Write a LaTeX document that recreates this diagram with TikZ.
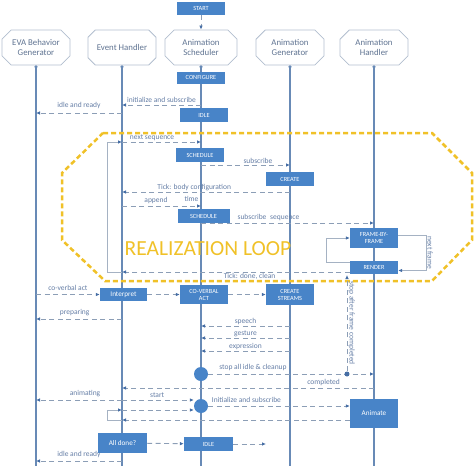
\documentclass[tikz,border=0pt]{standalone}
\usepackage{fontspec}
\setmainfont{Carlito}
\usetikzlibrary{arrows.meta,positioning,shapes.misc}

\definecolor{boxblue}{RGB}{72,132,200}
\definecolor{lifeblue}{RGB}{104,138,182}
\definecolor{msggray}{RGB}{140,158,182}
\definecolor{tipblue}{RGB}{70,110,165}
\definecolor{txtblue}{RGB}{100,125,165}
\definecolor{hdrline}{RGB}{178,190,206}
\definecolor{hdrtext}{RGB}{95,115,145}
\definecolor{loopgray}{RGB}{165,178,195}
\definecolor{loopyellow}{RGB}{240,193,40}

\begin{document}
\begin{tikzpicture}[x=1pt, y=-1pt, >={Latex[length=4pt,width=3.6pt,color=tipblue]},
    actor/.style={chamfered rectangle, chamfered rectangle xsep=6pt, draw=hdrline, line width=0.8pt, minimum width=68pt, minimum height=35pt, inner sep=1pt, align=center, text=hdrtext, font=\fontsize{8.8}{10}\selectfont},
    lifeline/.style={draw=lifeblue, line width=1.3pt, {Circle[length=3pt]}-},
    blk/.style={fill=boxblue, text=white, minimum width=48pt, minimum height=14pt, inner sep=1pt, align=center, font=\fontsize{6.3}{7}\selectfont},
    wordblk/.style={blk, font=\fontsize{7.2}{8}\selectfont},
    msg/.style={->, draw=msggray, line width=0.9pt, dash pattern=on 5pt off 3.5pt},
    back/.style={->, draw=loopgray, line width=0.9pt},
    lbl/.style={text=txtblue, inner sep=1pt, font=\fontsize{7.5}{8.5}\selectfont},
    joint/.style={circle, fill=boxblue, minimum size=14pt, inner sep=0pt},
    tinydot/.style={circle, fill=tipblue, minimum size=5pt, inner sep=0pt},
    loopborder/.style={draw=loopyellow, line width=2.5pt, dash pattern=on 5pt off 3pt}]
    \useasboundingbox (0,0) rectangle (474,466);

    % Lifeline heads
    \node[actor] (eva) at (36,47.5) {EVA Behavior\\Generator};
    \node[actor] (eh) at (122,47.5) {Event Handler};
    \node[actor, minimum width=72pt] (as) at (201,47.5) {Animation\\Scheduler};
    \node[actor] (ag) at (290,47.5) {Animation\\Generator};
    \node[actor] (ah) at (374,47.5) {Animation\\Handler};

    % Message rows
    \foreach \n/\y in {rinit/105, rready/113, rnext/142, rsub/165, rtick/192, rappend/206, rseq/223,
                       rdone/272, rprep/319, rspeech/326, rgest/338, rexpr/351, rcompl/388,
                       rstart/400, rback/410, ranim/420, rready2/461, rbottom/466}
        \coordinate (\n) at (0,\y);

    % Lifelines
    \foreach \a in {eva,eh,as,ag,ah}
        \draw[lifeline] (\a.south) -- (\a |- rbottom);

    % Realization loop
    \draw[loopborder] (103,133) -- (432,133) -- (472,173) -- (472,240) -- (432,281) -- (105,281) -- (62,240) -- (62,173) -- cycle;
    \node[text=loopyellow, font=\fontsize{21.5}{24}\selectfont] (looptitle) at (208,249) {REALIZATION LOOP};

    % Nodes
    \node[blk, minimum height=13pt] (start) at (201,8.5) {START};
    \node[blk, minimum height=12pt] (configure) at (201,77.5) {CONFIGURE};
    \node[blk] (idle) at (204,115) {IDLE};
    \node[blk] (schedule) at (200,155) {SCHEDULE};
    \node[blk] (create) at (290,179) {CREATE};
    \node[blk, minimum width=52pt] (reschedule) at (203.5,216) {SCHEDULE};
    \node[blk, minimum height=20pt] (frames) at (374,238) {FRAME-BY-\\FRAME};
    \node[blk, minimum height=13pt] (render) at (374,267.5) {RENDER};
    \node[wordblk, minimum width=47pt, minimum height=13pt] (interpret) at (123.5,294.5) {Interpret};
    \node[blk, minimum height=19pt] (coverbal) at (204,294.5) {CO-VERBAL\\ACT};
    \node[blk, minimum height=21pt] (streams) at (290,294.5) {CREATE\\STREAMS};
    \node[wordblk, minimum height=29pt] (animate) at (374,413.5) {Animate};
    \node[wordblk, minimum width=49pt, minimum height=20pt] (alldone) at (122.5,443) {All done?};
    \node[blk, minimum width=49pt] (idleagain) at (208.5,444) {IDLE};
    \node[joint] (stopjoint) at (201,374) {};
    \node[joint] (initjoint) at (201,406) {};
    \coordinate (idleout) at (266,444);

    % Arrows
    \draw[msg] (start) -- (as);
    \draw[msg] (as |- rinit) -- node[lbl, above=1pt]{initialize and subscribe} (eh |- rinit);
    \draw[msg] (eh |- rready) -- node[lbl, above=3pt]{idle and ready} (eva |- rready);
    \draw[back] (eh |- rdone) -- ++(-15,0) |- (eh |- rnext);
    \draw[msg] (eh |- rnext) -- node[lbl, above=0pt, pos=0.38]{next sequence} (as |- rnext);
    \draw[msg] (as |- rsub) -- node[lbl, above=0pt, pos=0.64]{subscribe} (ag |- rsub);
    \draw[msg] (ag |- rtick) -- node[lbl, above=0pt, pos=0.57]{Tick: body configuration} (eh |- rtick);
    \draw[msg] (eh |- rappend) -- node[lbl, above=1pt, pos=0.43]{append}
        node[lbl, above=3pt, pos=0.88]{time} (as |- rappend);
    \draw[msg] (as |- rseq) -- node[lbl, above=1pt, pos=0.39]{subscribe\enspace sequence} (ah |- rseq);
    \draw[back] ([yshift=-2pt]render.north west) -- ++(-23,0) |- (frames.west);
    \draw[back] ([yshift=3pt]frames.east) -- ++(28,0) |- node[lbl, pos=0.25, anchor=south, rotate=-90]{next frame} ([yshift=-3pt]render.east);
    \draw[msg] (render.west |- rdone) -- node[lbl, below=0pt, pos=0.44]{Tick: done, clean} (eh |- rdone);
    \draw[msg] (eva |- interpret) -- node[lbl, above=2pt]{co-verbal act} (interpret);
    \draw[msg] (interpret) -- (coverbal);
    \draw[msg] (coverbal) -- (streams);
    \draw[msg] (eh |- rprep) -- node[lbl, above=2pt, pos=0.55]{preparing} (eva |- rprep);
    \draw[msg] (ag |- rspeech) -- node[lbl, above=0pt]{speech} (as |- rspeech);
    \draw[msg] (ag |- rgest) -- node[lbl, above=0pt]{gesture} (as |- rgest);
    \draw[msg] (ag |- rexpr) -- node[lbl, above=0pt]{expression} (as |- rexpr);
    \draw[msg] (stopjoint) -- node[lbl, above=2pt, pos=0.27]{stop all idle \& cleanup} (ah |- stopjoint);
    \node[tinydot] (framedot) at (347,374) {};
    \draw[msg] (framedot) -- node[lbl, anchor=south, rotate=-90]{stop after frame completed} ([yshift=-3pt]framedot |- rdone);
    \draw[msg] (ah |- rcompl) -- node[lbl, above=1pt, pos=0.2]{completed} (eh |- rcompl);
    \draw[msg] (eh |- rstart) -- node[lbl, above=2pt, pos=0.43]{animating} (eva |- rstart);
    \draw[msg] (eh |- rstart) -- node[lbl, above=1pt, pos=0.49]{start} (initjoint.west |- rstart);
    \draw[msg] (initjoint) -- node[lbl, above=2pt, pos=0.27]{Initialize and subscribe} (animate.west |- initjoint);
    \draw[back] (eh |- ranim) -- ++(-15,0) |- (eh |- rback);
    \draw[msg] (eh |- rback) -- (initjoint.west |- rback);
    \draw[msg] (animate.west |- ranim) -- (eh |- ranim);
    \draw[msg] (alldone) -- (idleagain);
    \draw[msg] (idleagain) -- (idleout);
    \draw[msg] (eh |- rready2) -- node[lbl, above=2pt]{idle and ready} (eva |- rready2);
\end{tikzpicture}
\end{document}
